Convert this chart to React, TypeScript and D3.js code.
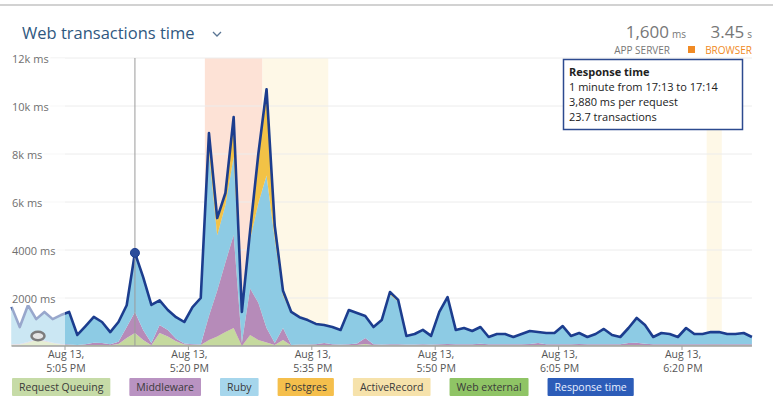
import { useRef, useEffect } from 'react';
import * as d3 from 'd3';

// ---------------------------------------------------------------------------
// Palette
// ---------------------------------------------------------------------------
const TITLE_COLOR = '#30587f';
const LABEL_COLOR = '#6f6f6f';
const GRID_COLOR = '#ececec';
const AXIS_COLOR = '#a0a0a0';
const LINE_COLOR = '#1c3d8e';
const BROWSER_ORANGE = '#f08a24';
const FONT = "'Open Sans', 'Noto Sans', sans-serif";

// ---------------------------------------------------------------------------
// Data: one bucket per minute, from 16:58 to 18:21
// ---------------------------------------------------------------------------
const FIRST_BUCKET = '16:58';

const responseTime = [
  1630, 790, 1700, 1120, 1420, 1120, 1290,
  1420, 460, 830, 1210, 1000, 580, 1000, 1700, 3880, 2870,
  1710, 1900, 1500, 1200, 1000, 1620, 2000, 8870, 5330, 6375,
  9540, 1420, 4800, 8000, 10700, 5000, 2300, 1420, 1200, 1080,
  920, 875, 790, 670, 1500, 1375, 1250, 790, 1080, 2250,
  1920, 420, 500, 670, 420, 1420, 2040, 670, 750, 625,
  790, 375, 500, 500, 375, 500, 625, 580, 540, 540,
  830, 420, 540, 375, 500, 710, 460, 375, 750, 1170,
  875, 375, 540, 500, 375, 750, 500, 500, 580, 580,
  500, 500, 540, 375,
];

const requestQueuing = [
  50, 60, 150, 250, 200, 120, 60,
  30, 20, 30, 40, 40, 30, 80, 330, 540, 250,
  30, 540, 400, 200, 60, 40, 40, 250, 400, 580,
  750, 0, 460, 250, 150, 40, 250, 20, 30, 30,
  30, 40, 30, 30, 30, 40, 80, 30, 30, 30,
  30, 30, 30, 30, 30, 30, 30, 30, 30, 30,
  40, 30, 30, 30, 30, 30, 30, 40, 30, 30,
  30, 30, 30, 30, 30, 30, 30, 30, 40, 40,
  30, 30, 30, 30, 30, 30, 30, 30, 30, 30,
  30, 30, 30, 30,
];

const middleware = [
  20, 20, 20, 30, 30, 20, 20,
  30, 20, 40, 100, 80, 40, 100, 460, 880, 420,
  95, 335, 270, 100, 40, 30, 20, 1000, 1900, 2900,
  3875, 125, 1940, 1550, 600, 85, 500, 20, 30, 30,
  40, 80, 40, 30, 40, 60, 250, 40, 30, 40,
  40, 30, 30, 40, 30, 40, 50, 40, 40, 40,
  50, 40, 40, 40, 40, 40, 50, 80, 40, 40,
  40, 40, 50, 40, 40, 40, 40, 40, 80, 100,
  60, 40, 40, 40, 40, 40, 40, 40, 40, 40,
  40, 40, 40, 40,
];

const ruby = [
  1560, 710, 1530, 840, 1190, 980, 1210,
  1360, 420, 760, 1070, 880, 510, 820, 910, 2460, 2200,
  1585, 1025, 830, 900, 900, 1550, 1940, 6820, 2310, 2395,
  3265, 1295, 2050, 4150, 6350, 4325, 1350, 1330, 1110, 1000,
  850, 755, 720, 610, 1430, 1275, 920, 720, 1020, 2080,
  1770, 360, 440, 600, 360, 1350, 1920, 600, 680, 555,
  700, 305, 430, 430, 305, 430, 545, 460, 470, 470,
  760, 350, 460, 305, 430, 640, 390, 305, 630, 1030,
  785, 305, 470, 430, 305, 680, 430, 430, 510, 510,
  430, 430, 470, 305,
];

const postgres = [
  0, 0, 0, 0, 0, 0, 0,
  0, 0, 0, 0, 0, 0, 0, 0, 0, 0,
  0, 0, 0, 0, 0, 0, 0, 700, 620, 400,
  1500, 0, 300, 1900, 3400, 450, 150, 50, 30, 20,
  0, 0, 0, 0, 0, 0, 0, 0, 0, 100,
  80, 0, 0, 0, 0, 0, 40, 0, 0, 0,
  0, 0, 0, 0, 0, 0, 0, 0, 0, 0,
  0, 0, 0, 0, 0, 0, 0, 0, 0, 0,
  0, 0, 0, 0, 0, 0, 0, 0, 0, 0,
  0, 0, 0, 0,
];

const activeRecord = [
  0, 0, 0, 0, 0, 0, 0,
  0, 0, 0, 0, 0, 0, 0, 0, 0, 0,
  0, 0, 0, 0, 0, 0, 0, 100, 100, 100,
  150, 0, 50, 150, 200, 100, 50, 0, 0, 0,
  0, 0, 0, 0, 0, 0, 0, 0, 0, 0,
  0, 0, 0, 0, 0, 0, 0, 0, 0, 0,
  0, 0, 0, 0, 0, 0, 0, 0, 0, 0,
  0, 0, 0, 0, 0, 0, 0, 0, 0, 0,
  0, 0, 0, 0, 0, 0, 0, 0, 0, 0,
  0, 0, 0, 0,
];

const webExternal = [
  0, 0, 0, 0, 0, 0, 0,
  0, 0, 0, 0, 0, 0, 0, 0, 0, 0,
  0, 0, 0, 0, 0, 0, 0, 0, 0, 0,
  0, 0, 0, 0, 0, 0, 0, 0, 0, 0,
  0, 0, 0, 0, 0, 0, 0, 0, 0, 0,
  0, 0, 0, 0, 0, 0, 0, 0, 0, 0,
  0, 0, 0, 0, 0, 0, 0, 0, 0, 0,
  0, 0, 0, 0, 0, 0, 0, 0, 0, 0,
  0, 0, 0, 0, 0, 0, 0, 0, 0, 0,
  0, 0, 0, 0,
];

const seriesNames = ['Request Queuing', 'Middleware', 'Ruby', 'Postgres', 'ActiveRecord', 'Web external'];
const seriesValues = [requestQueuing, middleware, ruby, postgres, activeRecord, webExternal];
const areaColors = ['#c5d99e', '#b68bb9', '#8dcbe4', '#f2c246', '#f5dc94', '#8cc063'];
const legendColors = ['#c6dba7', '#b993c2', '#a6d6ec', '#f5bf4c', '#f6e2ab', '#8fc465'];

const yTicks = [2000, 4000, 6000, 8000, 10000, 12000];
const yTickLabels = ['2000 ms', '4000 ms', '6k ms', '8k ms', '10k ms', '12k ms'];

const xTicks = ['17:05', '17:20', '17:35', '17:50', '18:05', '18:20'];
const xTickLabels = ['5:05 PM', '5:20 PM', '5:35 PM', '5:50 PM', '6:05 PM', '6:20 PM'];

// deploy / incident bands
const bandStarts = ['17:22:00', '17:29:00', '18:23:00'];
const bandEnds = ['17:29:00', '17:37:00', '18:24:50'];
const bandColors = ['#fde2d6', '#fef8e7', '#fef8e7'];

const fadedUntil = '17:05';
const hoverBucket = '17:13';

const tooltipLines = [
  'Response time',
  '1 minute from 17:13 to 17:14',
  '3,880 ms per request',
  '23.7 transactions',
];

// ---------------------------------------------------------------------------

const at = (hm: string) => {
  const [h, m, s] = hm.split(':').map(Number);
  return new Date(2015, 7, 13, h, m, s || 0);
};
const bucketMid = (i: number) => new Date(at(FIRST_BUCKET).getTime() + i * 60000 + 30000);

export default function App() {
  const svgRef = useRef<SVGSVGElement>(null);

  useEffect(() => {
    const svg = svgRef.current;
    if (!svg) return;
    const sel = d3.select(svg);
    sel.selectAll('*').remove();

    const x = d3.scaleTime().domain([at('17:05'), at('18:20')]).range([65, 682]);
    const y = d3.scaleLinear().domain([0, 12000]).range([346, 58]);

    const n = responseTime.length;
    const left = x(bucketMid(0));
    const right = x(bucketMid(n - 1));

    // top border
    sel.append('line')
      .attr('x1', 0).attr('x2', 773).attr('y1', 5).attr('y2', 5)
      .attr('stroke', '#d2d2d2').attr('stroke-width', 2);

    // bands
    bandStarts.forEach((s, i) => {
      sel.append('rect')
        .attr('x', x(at(s)))
        .attr('y', y(12000))
        .attr('width', x(at(bandEnds[i])) - x(at(s)))
        .attr('height', y(0) - y(12000))
        .attr('fill', bandColors[i]);
    });

    // grid
    yTicks.forEach((t) => {
      sel.append('line')
        .attr('x1', left).attr('x2', right)
        .attr('y1', y(t)).attr('y2', y(t))
        .attr('stroke', GRID_COLOR).attr('stroke-width', 1);
    });

    // stacked areas
    const rows = d3.range(n).map((i) => {
      const r: Record<string, number> = { i };
      seriesNames.forEach((k, j) => { r[k] = seriesValues[j][i]; });
      return r;
    });
    const stacked = d3.stack<Record<string, number>>().keys(seriesNames)(rows);
    const area = d3.area<d3.SeriesPoint<Record<string, number>>>()
      .x((d) => x(bucketMid(d.data.i)))
      .y0((d) => y(d[0]))
      .y1((d) => y(d[1]));
    stacked.forEach((s, j) => {
      sel.append('path').attr('d', area(s) || '').attr('fill', areaColors[j]);
    });

    // response time line
    const line = d3.line<number>()
      .x((_, i) => x(bucketMid(i)))
      .y((d) => y(d));
    sel.append('path')
      .attr('d', line(responseTime) || '')
      .attr('fill', 'none')
      .attr('stroke', LINE_COLOR)
      .attr('stroke-width', 2.6)
      .attr('stroke-linejoin', 'round');

    // faded earlier window
    sel.append('rect')
      .attr('x', left).attr('y', y(12000))
      .attr('width', x(at(fadedUntil)) - left)
      .attr('height', y(0) - y(12000))
      .attr('fill', '#ffffff').attr('opacity', 0.55);

    // drag handle
    sel.append('ellipse')
      .attr('cx', 38).attr('cy', 336).attr('rx', 6.5).attr('ry', 4.3)
      .attr('fill', '#e4e4e4').attr('stroke', '#7c7c7c').attr('stroke-width', 2.5);

    // hover marker
    const hi = Math.round((at(hoverBucket).getTime() - at(FIRST_BUCKET).getTime()) / 60000);
    const hx = x(bucketMid(hi));
    sel.append('line')
      .attr('x1', hx).attr('x2', hx).attr('y1', y(12000)).attr('y2', y(0))
      .attr('stroke', '#9a9a9a').attr('stroke-width', 1);
    sel.append('circle')
      .attr('cx', hx).attr('cy', y(responseTime[hi])).attr('r', 4.5)
      .attr('fill', '#2b4c9b').attr('stroke', LINE_COLOR).attr('stroke-width', 1);

    // x axis
    sel.append('line')
      .attr('x1', left).attr('x2', right).attr('y1', y(0)).attr('y2', y(0))
      .attr('stroke', AXIS_COLOR).attr('stroke-width', 1.5);
    xTicks.forEach((t, i) => {
      const tx = x(at(t));
      sel.append('line')
        .attr('x1', tx).attr('x2', tx).attr('y1', y(0)).attr('y2', y(0) + 4)
        .attr('stroke', AXIS_COLOR).attr('stroke-width', 1);
      [ 'Aug 13,', xTickLabels[i] ].forEach((s, k) => {
        sel.append('text')
          .attr('x', tx + 1)
          .attr('y', 358 + k * 14)
          .attr('text-anchor', 'middle')
          .attr('fill', '#555')
          .attr('font-family', FONT)
          .attr('font-size', '10.5px')
          .text(s);
      });
    });

    // y labels
    yTicks.forEach((t, i) => {
      sel.append('text')
        .attr('x', 12)
        .attr('y', y(t))
        .attr('dominant-baseline', 'central')
        .attr('fill', LABEL_COLOR)
        .attr('stroke', '#ffffff')
        .attr('stroke-width', 4)
        .attr('paint-order', 'stroke')
        .attr('font-family', FONT)
        .attr('font-size', '11px')
        .text(yTickLabels[i]);
    });

    // title
    sel.append('text')
      .attr('x', 22).attr('y', 39)
      .attr('fill', TITLE_COLOR)
      .attr('font-family', FONT)
      .attr('font-size', '16.5px')
      .text('Web transactions time');
    sel.append('path')
      .attr('d', 'M213,32 L217,36 L221,32')
      .attr('fill', 'none').attr('stroke', '#5a7594').attr('stroke-width', 1.3);

    // summary numbers
    const big = (tx: number, v: string, unit: string) => {
      const t = sel.append('text')
        .attr('x', tx).attr('y', 38)
        .attr('text-anchor', 'end')
        .attr('fill', '#777')
        .attr('font-family', FONT);
      t.append('tspan').attr('font-size', '17px').text(v);
      t.append('tspan').attr('font-size', '10px').attr('dx', 3).text(unit);
    };
    big(686, '1,600', 'ms');
    big(752, '3.45', 's');
    sel.append('text')
      .attr('x', 670).attr('y', 54).attr('text-anchor', 'end')
      .attr('fill', '#777').attr('font-family', FONT).attr('font-size', '10px')
      .text('APP SERVER');
    sel.append('rect')
      .attr('x', 688).attr('y', 46).attr('width', 7).attr('height', 7)
      .attr('fill', BROWSER_ORANGE);
    sel.append('text')
      .attr('x', 752).attr('y', 54).attr('text-anchor', 'end')
      .attr('fill', BROWSER_ORANGE).attr('font-family', FONT).attr('font-size', '10px')
      .text('BROWSER');

    // tooltip
    sel.append('rect')
      .attr('x', 563.5).attr('y', 59.5).attr('width', 179).attr('height', 70)
      .attr('fill', '#ffffff').attr('stroke', '#2c4a8f').attr('stroke-width', 1.5);
    tooltipLines.forEach((l, i) => {
      sel.append('text')
        .attr('x', 569).attr('y', 76 + i * 15)
        .attr('fill', '#222')
        .attr('font-family', FONT)
        .attr('font-size', '11px')
        .attr('font-weight', i === 0 ? 700 : 400)
        .text(l);
    });

    // legend
    const legendItems = [...seriesNames, 'Response time'];
    const legendFill = [...legendColors, '#2c5cb8'];
    let lx = 12;
    legendItems.forEach((name, i) => {
      const g = sel.append('g');
      const rect = g.append('rect')
        .attr('x', lx).attr('y', 378).attr('height', 18).attr('rx', 1)
        .attr('fill', legendFill[i]);
      const txt = g.append('text')
        .attr('x', lx + 7).attr('y', 391)
        .attr('fill', i === legendItems.length - 1 ? '#e8efff' : '#3a3a3a')
        .attr('font-family', FONT)
        .attr('font-size', '10.5px')
        .text(name);
      const w = (txt.node() as SVGTextElement).getComputedTextLength();
      rect.attr('width', w + 14);
      lx += w + 14 + 19;
    });
  }, []);

  return (
    <div style={{ position: 'absolute', left: 0, top: 0 }}>
      <svg ref={svgRef} width={773} height={412} style={{ display: 'block', background: '#fff' }} />
    </div>
  );
}
